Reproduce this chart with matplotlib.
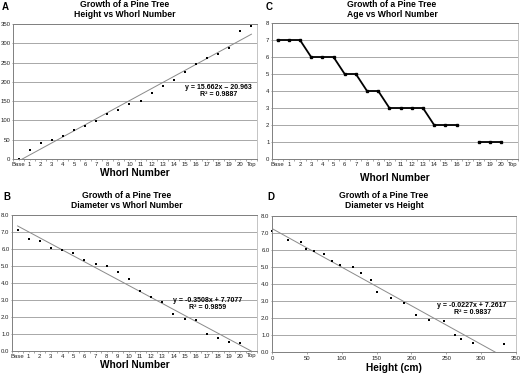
import matplotlib
matplotlib.use('Agg')
import matplotlib.pyplot as plt
import numpy as np

plt.rcParams['font.family'] = ['Liberation Sans', 'DejaVu Sans']

# categories along the trunk
whorls = ['Base'] + [str(i) for i in range(1, 21)] + ['Top']

# panel A: height (cm) by whorl
height = [0, 23, 41, 49, 60, 75, 86, 98, 116, 128, 142, 150, 170, 190,
          206, 225, 247, 263, 271, 288, 333, 345]
# panel B: diameter by whorl (no reading at Top)
diameter = [7.1, 6.6, 6.45, 6.05, 5.95, 5.75, 5.35, 5.1, 5.0, 4.65, 4.25,
            3.55, 3.2, 2.9, 2.2, 1.9, 1.8, 1.0, 0.75, 0.55, 0.45, np.nan]
# panel C: age by whorl (gaps at 17 and Top)
age = [7, 7, 7, 6, 6, 6, 5, 5, 4, 4, 3, 3, 3, 3, 2, 2, 2, np.nan, 1, 1, 1, np.nan]

# trendline coefficients as printed on the charts
fitA = (15.662, -20.963, 0.9887)
fitB = (-0.3508, 7.7077, 0.9859)
fitD = (-0.0227, 7.2617, 0.9837)

W, H = 520, 373
fig = plt.figure(figsize=(W / 100, H / 100), dpi=100)
fig.patch.set_facecolor('white')

GRID = '#a8a8a8'
SPINE = '#808080'
TREND = '#8a8a8a'


def make_axes(l, t, r, b):
    return fig.add_axes([l / W, 1 - b / H, (r - l) / W, (b - t) / H])


def style(ax, yticks, yfmt):
    ax.set_ylim(yticks[0], yticks[-1])
    ax.set_yticks(yticks)
    ax.set_yticklabels([yfmt.format(v) for v in yticks])
    ax.yaxis.grid(True, color=GRID, lw=0.7)
    ax.set_axisbelow(True)
    for s in ax.spines.values():
        s.set_color(SPINE)
        s.set_linewidth(0.7)
    ax.spines['right'].set_color('#c4c4c4')
    ax.tick_params(labelsize=4.3, length=1, width=0.5, color=SPINE, pad=0.8,
                   labelcolor='#222222')


def category_x(ax):
    x = np.arange(len(whorls))
    ax.set_xlim(-0.5, len(whorls) - 0.5)
    ax.set_xticks(x)
    ax.set_xticklabels(whorls)
    ax.tick_params(axis='x', length=0, pad=2)
    ax.set_xticks(np.arange(-0.5, len(whorls)), minor=True)
    ax.tick_params(axis='x', which='minor', length=1.5, width=0.5, color=SPINE)
    return x


def titles(cx, y, lines, letter, lx):
    fig.text(cx / W, 1 - y / H, lines[0], ha='center', va='center',
             fontsize=6.2, fontweight='bold')
    fig.text(cx / W, 1 - (y + 10) / H, lines[1], ha='center', va='center',
             fontsize=6.2, fontweight='bold')
    fig.text(lx / W, 1 - (y + 2) / H, letter, ha='left', va='center',
             fontsize=7, fontweight='bold')


def equation(ax, fit, fx, fy):
    m, c, r2 = fit
    sign = '+' if c >= 0 else '\u2013'
    txt = 'y = {:g}x {} {:g}\nR\u00b2 = {:g}'.format(m, sign, abs(c), r2)
    ax.text(fx, fy, txt, transform=ax.transAxes, ha='center', va='center',
            multialignment='center', fontsize=5, fontweight='bold',
            linespacing=1.1)


# ---- A ----
axA = make_axes(13, 24, 257, 159)
xA = category_x(axA)
style(axA, np.arange(0, 351, 50), '{:d}')
axA.plot(xA, fitA[0] * (xA + 1) + fitA[1], color=TREND, lw=0.7)
axA.plot(xA, height, 's', color='black', ms=1.6, mew=0)
axA.set_xlabel('Whorl Number', fontsize=7.3, fontweight='bold', labelpad=1)
equation(axA, fitA, 0.842, 0.505)
titles(125, 4.5, ['Growth of a Pine Tree', 'Height vs Whorl Number'], 'A', 2)

# ---- C ----
axC = make_axes(272, 23, 518, 159)
xC = category_x(axC)
style(axC, np.arange(0, 9, 1), '{:d}')
axC.plot(xC, age, '-s', color='black', lw=1.3, ms=1.6)
axC.set_xlabel('Whorl Number', fontsize=7.3, fontweight='bold', labelpad=4.5)
titles(392, 4.5, ['Growth of a Pine Tree', 'Age vs Whorl Number'], 'C', 266)

# ---- B ----
axB = make_axes(12, 215, 257, 351)
xB = category_x(axB)
style(axB, np.arange(0, 9, 1.0), '{:.1f}')
axB.plot(xB, fitB[0] * (xB + 1) + fitB[1], color=TREND, lw=0.7)
axB.plot(xB, diameter, 's', color='black', ms=1.6, mew=0)
axB.set_xlabel('Whorl Number', fontsize=7.3, fontweight='bold', labelpad=1)
equation(axB, fitB, 0.80, 0.345)
titles(127, 195, ['Growth of a Pine Tree', 'Diameter vs Whorl Number'], 'B', 3)

# ---- D ----
axD = make_axes(272, 216, 516, 352)
style(axD, np.arange(0, 9, 1.0), '{:.1f}')
axD.set_xlim(0, 350)
axD.set_xticks(np.arange(0, 351, 50))
axD.tick_params(axis='x', length=1.5, pad=1.5)
hD = np.array([h for h, d in zip(height, diameter) if not np.isnan(d)])
dD = np.array([d for d in diameter if not np.isnan(d)])
hx = np.array([0, hD.max()])
axD.plot(hx, fitD[0] * hx + fitD[1], color=TREND, lw=0.7)
axD.plot(hD, dD, 's', color='black', ms=1.6, mew=0, clip_on=False)
axD.set_xlabel('Height (cm)', fontsize=7.3, fontweight='bold', labelpad=1)
equation(axD, fitD, 0.82, 0.316)
titles(384, 195, ['Growth of a Pine Tree', 'Diameter vs Height'], 'D', 267)

fig.savefig('out.png', dpi=100, facecolor='white')
